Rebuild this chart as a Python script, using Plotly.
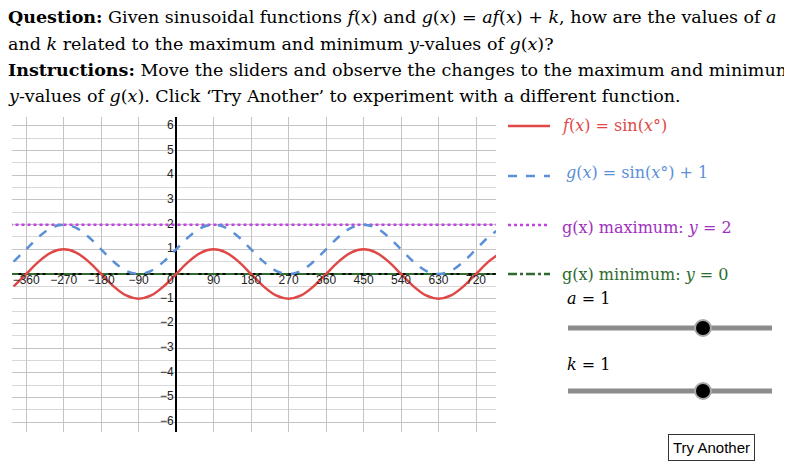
import plotly.graph_objects as go

# sample points every 30 degrees
deg = [-390, -360, -330, -300, -270, -240, -210, -180, -150, -120, -90, -60, -30, 0,
       30, 60, 90, 120, 150, 180, 210, 240, 270, 300, 330, 360, 390, 420, 450, 480,
       510, 540, 570, 600, 630, 660, 690, 720, 750, 780]
f_vals = [-0.5, 0, 0.5, 0.87, 1, 0.87, 0.5, 0, -0.5, -0.87, -1, -0.87, -0.5, 0,
          0.5, 0.87, 1, 0.87, 0.5, 0, -0.5, -0.87, -1, -0.87, -0.5, 0, 0.5, 0.87, 1, 0.87,
          0.5, 0, -0.5, -0.87, -1, -0.87, -0.5, 0, 0.5, 0.87]
g_vals = [0.5, 1, 1.5, 1.87, 2, 1.87, 1.5, 1, 0.5, 0.13, 0, 0.13, 0.5, 1,
          1.5, 1.87, 2, 1.87, 1.5, 1, 0.5, 0.13, 0, 0.13, 0.5, 1, 1.5, 1.87, 2, 1.87,
          1.5, 1, 0.5, 0.13, 0, 0.13, 0.5, 1, 1.5, 1.87]
g_max = 2
g_min = 0
x_ticks = [-360, -270, -180, -90, 90, 180, 270, 360, 450, 540, 630, 720]
x_tick_text = ["\u2212360", "\u2212270", "\u2212180", "\u221290", "90", "180", "270",
               "360", "450", "540", "630", "720"]
y_ticks = [-6, -5, -4, -3, -2, -1, 1, 2, 3, 4, 5, 6]
y_tick_text = ["\u22126", "\u22125", "\u22124", "\u22123", "\u22122", "\u22121",
               "1", "2", "3", "4", "5", "6"]

RED = "#e04848"
BLUE = "#5b8fd8"
PURPLE = "#c044e0"
GREEN = "#2f6b2f"
SERIF = "DejaVu Serif"
W, H = 792, 473
OFF = 8  # page body margin


def px(x):
    return (x - OFF) / W


def py(y):
    return 1 - (y - OFF) / H


fig = go.Figure()
fig.add_trace(go.Scatter(x=[-400, 780], y=[g_max, g_max], mode="lines",
                         line=dict(color=PURPLE, width=2.5, dash="dot")))
fig.add_trace(go.Scatter(x=[-400, 780], y=[g_min, g_min], mode="lines",
                         line=dict(color=GREEN, width=2, dash="dashdot")))
fig.add_trace(go.Scatter(x=deg, y=g_vals, mode="lines", line_shape="spline",
                         line=dict(color=BLUE, width=2.5, dash="dash")))
fig.add_trace(go.Scatter(x=deg, y=f_vals, mode="lines", line_shape="spline",
                         line=dict(color=RED, width=2.5)))
tickfont = dict(family="Liberation Sans", size=12, color="#222")
fig.add_trace(go.Scatter(x=x_ticks, y=[-0.3] * len(x_ticks), text=x_tick_text,
                         mode="text", textfont=tickfont))
fig.add_trace(go.Scatter(x=[-6] * len(y_ticks), y=y_ticks, text=y_tick_text,
                         mode="text", textposition="middle left", textfont=tickfont))
fig.add_trace(go.Scatter(x=[-6], y=[-0.3], text=["0"], mode="text",
                         textposition="middle left", textfont=tickfont))

fig.update_xaxes(range=[-394, 768], domain=[px(12), px(496)], tickvals=x_ticks + [0],
                 showticklabels=False, showgrid=True, gridcolor="#c4c4c4",
                 zeroline=True, zerolinecolor="black", zerolinewidth=1.5, showline=False)
fig.update_yaxes(range=[-6.4, 6.36], domain=[py(432), py(117)], dtick=1,
                 showticklabels=False, showgrid=True, gridcolor="#c4c4c4",
                 minor=dict(dtick=0.5, showgrid=True, gridcolor="#d8d8d8"),
                 zeroline=True, zerolinecolor="black", zerolinewidth=1.5, showline=False)


def ptxt(x, y, text, size=17.5, color="black", anchor="left"):
    fig.add_annotation(x=px(x), y=py(y), xref="paper", yref="paper", text=text,
                       showarrow=False, xanchor=anchor, yanchor="middle",
                       font=dict(family=SERIF, size=size, color=color))


ptxt(6, 17, "<b>Question:</b> Given sinusoidal functions <i>f</i>(<i>x</i>) and "
     "<i>g</i>(<i>x</i>) = <i>af</i>(<i>x</i>) + <i>k</i>, how are the values of <i>a</i>")
ptxt(6, 44, "and <i>k</i> related to the maximum and minimum <i>y</i>-values of <i>g</i>(<i>x</i>)?")
ptxt(6, 70, "<b>Instructions:</b> Move the sliders and observe the changes to the maximum and minimum")
ptxt(6, 96, "<i>y</i>-values of <i>g</i>(<i>x</i>). Click \u2018Try Another\u2019 to experiment with a different function.")

ptxt(560, 126, "<i>f</i>(<i>x</i>) = sin(<i>x</i>\u00b0)", size=16, color=RED)
ptxt(564, 173, "<i>g</i>(<i>x</i>) = sin(<i>x</i>\u00b0) + 1", size=16, color=BLUE)
ptxt(560, 227, "g(x) maximum: <i>y</i> = 2", size=16, color="#a030c0")
ptxt(560, 274, "g(x) minimum: <i>y</i> = 0", size=16, color=GREEN)
ptxt(565, 298, "<i>a</i> = 1", size=16)
ptxt(565, 364, "<i>k</i> = 1", size=16)


def pline(x0, x1, y, color, dash=None, width=2.5):
    fig.add_shape(type="line", xref="paper", yref="paper", x0=px(x0), x1=px(x1),
                  y0=py(y), y1=py(y), line=dict(color=color, width=width, dash=dash))


pline(508, 550, 126, RED)
pline(508, 550, 176, BLUE, "dash")
pline(508, 550, 225, PURPLE, "dot")
pline(508, 550, 274, GREEN, "dashdot")
for sy in (328, 391):
    pline(568, 772, sy, "#8c8c8c", width=5)
    fig.add_shape(type="circle", xref="paper", yref="paper",
                  x0=px(695), x1=px(711), y0=py(sy + 8), y1=py(sy - 8),
                  fillcolor="black", line=dict(color="#aaaaaa", width=2))

fig.add_annotation(x=px(711), y=py(447), xref="paper", yref="paper",
                   text="Try Another", showarrow=False, bordercolor="#333", borderwidth=1,
                   borderpad=4, bgcolor="white", xanchor="center", yanchor="middle",
                   font=dict(family="Liberation Sans", size=15, color="black"))

fig.update_layout(width=W, height=H, margin=dict(l=0, r=0, t=0, b=0),
                  plot_bgcolor="white", paper_bgcolor="white", showlegend=False)
fig.write_html("out.html")
